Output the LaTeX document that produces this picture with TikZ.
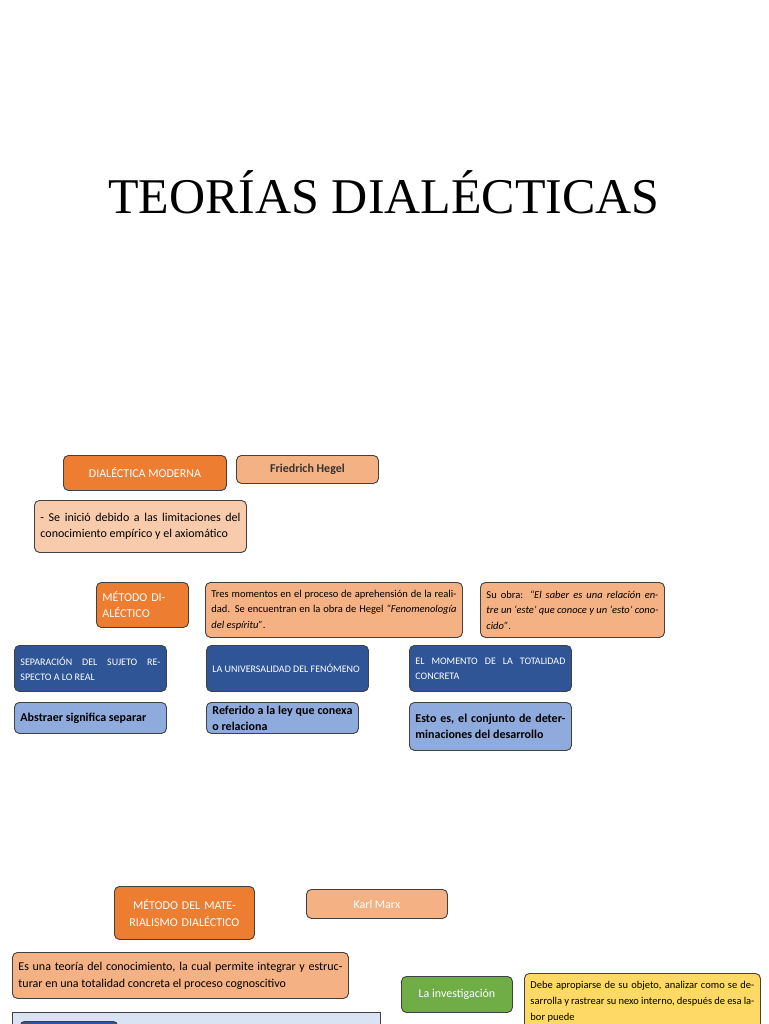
\documentclass[tikz,border=0pt]{standalone}
\usepackage{fontspec}
\setmainfont{Carlito}
\newfontfamily\titlefont{Liberation Serif}
\definecolor{org}{HTML}{ED7D31}
\definecolor{peach}{HTML}{F4B183}
\definecolor{lpeach}{HTML}{F8CBAD}
\definecolor{dblue}{HTML}{2F5597}
\definecolor{lblue}{HTML}{8FAADC}
\definecolor{grn}{HTML}{70AD47}
\definecolor{ylw}{HTML}{FFD966}
\definecolor{pale}{HTML}{DAE3F3}
\definecolor{edge}{HTML}{404040}
\tikzset{
 bx/.style={draw=edge, line width=0.9pt, rounded corners=5pt, anchor=north west, inner sep=6pt, font=\fontsize{11}{15.5}\selectfont, align=justify},
}
\begin{document}
\begin{tikzpicture}[x=1pt,y=-1pt]
\useasboundingbox (0,0) rectangle (768,1024);
\clip (0,0) rectangle (768,1024);
\node[font=\titlefont\fontsize{50}{56}\selectfont] (title) at (384,192) {TEORÍAS DIALÉCTICAS};

\node[bx, fill=org, text=white, minimum width=163, minimum height=35, align=center, font=\fontsize{12}{15}\selectfont] (dm) at (63,455) {DIALÉCTICA MODERNA};
\node[bx, fill=peach, text=black!80, minimum width=142, minimum height=28, align=center, font=\bfseries\fontsize{12}{15}\selectfont] (fh) at (236,455) {Friedrich Hegel};
\node[bx, fill=lpeach, text width=200, inner sep=0pt, inner xsep=6pt, inner ysep=2pt, minimum height=52, font=\fontsize{12}{16}\selectfont] (si) at (34,500) {- Se inició debido a las limitaciones del conocimiento empírico y el axiomático};

\node[bx, fill=org, text=white, text width=80, minimum height=45, align=left, font=\fontsize{12}{16}\selectfont] (md) at (96,582) {MÉTODO DIALÉCTICO};
\node[bx, fill=peach, text width=245, minimum height=55, font=\fontsize{10.5}{15.5}\selectfont] (tm) at (205,582) {Tres momentos en el proceso de aprehensión de la realidad. Se encuentran en la obra de Hegel \textit{“Fenomenología del espíritu”}.};
\node[bx, fill=peach, text width=172, minimum height=55, font=\fontsize{10.5}{15.5}\selectfont] (so) at (480,582) {Su obra: \textit{“El saber es una relación entre un ‘este’ que conoce y un ‘esto’ conocido”}.};

\node[bx, fill=dblue, text=white, text width=140, minimum height=46, font=\fontsize{10}{15}\selectfont] (sp) at (14,645) {SEPARACIÓN DEL SUJETO RESPECTO A LO REAL};
\node[bx, fill=dblue, text=white, text width=150, minimum height=46, font=\fontsize{10}{15}\selectfont] (un) at (206,645) {LA UNIVERSALIDAD DEL FENÓMENO};
\node[bx, fill=dblue, text=white, text width=150, minimum height=46, font=\fontsize{10}{15}\selectfont] (mo) at (409,645) {EL MOMENTO DE LA TOTALIDAD CONCRETA};

\node[bx, fill=lblue, text width=140, inner ysep=1pt, minimum height=31, font=\bfseries\fontsize{12}{16}\selectfont] (ab) at (14,702) {Abstraer significa separar};
\node[bx, fill=lblue, text width=140, inner ysep=1pt, minimum height=31, font=\bfseries\fontsize{12}{16}\selectfont] (re) at (206,702) {Referido a la ley que conexa o relaciona};
\node[bx, fill=lblue, text width=150, inner ysep=1pt, minimum height=48, font=\bfseries\fontsize{12}{16}\selectfont] (ee) at (409,702) {Esto es, el conjunto de determinaciones del desarrollo};

\node[bx, fill=org, text=white, text width=128, minimum height=53, inner ysep=2pt, align=center, font=\fontsize{12}{17}\selectfont] (mm) at (114,886) {MÉTODO DEL MATERIALISMO DIALÉCTICO};
\node[bx, fill=peach, text=white, minimum width=141, minimum height=29, align=center, font=\fontsize{12}{15}\selectfont] (km) at (306,889) {Karl Marx};
\node[bx, fill=peach, text width=324, inner ysep=1pt, minimum height=46, font=\fontsize{12}{17}\selectfont] (et) at (12,952) {Es una teoría del conocimiento, la cual permite integrar y estructurar en una totalidad concreta el proceso cognoscitivo};
\node[bx, fill=grn, text=white, minimum width=111, minimum height=36, align=center, font=\fontsize{12}{15}\selectfont] (li) at (401,976) {La investigación};
\node[bx, fill=ylw, text width=224, minimum height=70, inner ysep=3pt, font=\fontsize{10.5}{16}\selectfont] (de) at (524,973) {Debe apropiarse de su objeto, analizar como se desarrolla y rastrear su nexo interno, después de esa labor puede\hfill\break\phantom{x}};
\node[draw=edge, line width=0.9pt, fill=pale, anchor=north west, minimum width=368, minimum height=40, inner sep=0pt] (pb) at (12,1012) {};
\node[draw=edge, line width=0.9pt, fill=dblue, rounded corners=4pt, anchor=north west, minimum width=97, minimum height=30, inner sep=0pt] (pi) at (20,1021) {};
\end{tikzpicture}
\end{document}
